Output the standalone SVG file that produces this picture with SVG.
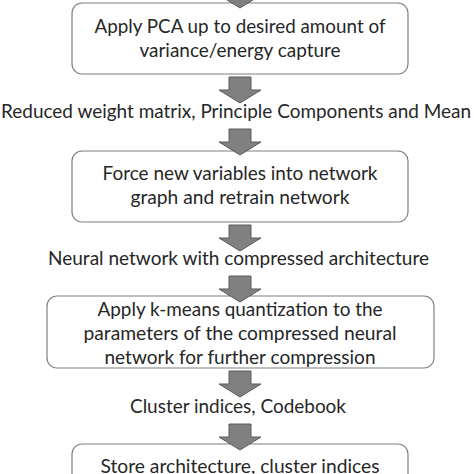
<svg xmlns="http://www.w3.org/2000/svg" width="474" height="474" viewBox="0 0 474 474">
<defs>
<style>
.box{fill:#ffffff;stroke:#7f7f7f;stroke-width:1.2}
.arr{fill:#808080;stroke:#5a5a5a;stroke-width:1}
text{font-family:Lato,"Open Sans","Liberation Sans",sans-serif;font-size:19px;fill:#262626;text-anchor:middle}
</style>
</defs>
<rect width="474" height="474" fill="#ffffff"/>
<g id="node1">
<rect class="box" x="72" y="3" width="336" height="71" rx="10"/>
<text x="240" y="33" textLength="291" lengthAdjust="spacingAndGlyphs">Apply PCA up to desired amount of</text>
<text x="240" y="57" textLength="201" lengthAdjust="spacingAndGlyphs">variance/energy capture</text>
</g>
<g id="label1"><text x="236" y="118" textLength="470" lengthAdjust="spacingAndGlyphs">Reduced weight matrix, Principle Components and Mean</text></g>
<g id="node2">
<rect class="box" x="72" y="151" width="336" height="71" rx="10"/>
<text x="240" y="180" textLength="275" lengthAdjust="spacingAndGlyphs">Force new variables into network</text>
<text x="240" y="204" textLength="219" lengthAdjust="spacingAndGlyphs">graph and retrain network</text>
</g>
<g id="label2"><text x="238.5" y="265" textLength="381" lengthAdjust="spacingAndGlyphs">Neural network with compressed architecture</text></g>
<g id="node3">
<rect class="box" x="47" y="296" width="387" height="72" rx="10"/>
<text x="240" y="316" textLength="285" lengthAdjust="spacingAndGlyphs">Apply k-means quantization to the</text>
<text x="240" y="340" textLength="313" lengthAdjust="spacingAndGlyphs">parameters of the compressed neural</text>
<text x="240" y="364" textLength="271" lengthAdjust="spacingAndGlyphs">network for further compression</text>
</g>
<g id="label3"><text x="238" y="413" textLength="216" lengthAdjust="spacingAndGlyphs">Cluster indices, Codebook</text></g>
<g id="node4">
<rect class="box" x="72" y="444" width="336" height="71" rx="10"/>
<text x="240" y="473" textLength="279" lengthAdjust="spacingAndGlyphs">Store architecture, cluster indices</text>
</g>
<g id="connectors">
<path class="arr" d="M229,-18 H251 V-5 H261 L240,8 L219,-5 H229 Z"/>
<path class="arr" d="M229,77 H251 V90 H261 L240,103 L219,90 H229 Z"/>
<path class="arr" d="M229,129 H251 V142 H261 L240,155 L219,142 H229 Z"/>
<path class="arr" d="M229,225 H251 V238 H261 L240,251 L219,238 H229 Z"/>
<path class="arr" d="M229,276 H251 V289 H261 L240,302 L219,289 H229 Z"/>
<path class="arr" d="M229,371 H251 V384 H261 L240,397 L219,384 H229 Z"/>
<path class="arr" d="M229,424 H251 V437 H261 L240,450 L219,437 H229 Z"/>
</g>
</svg>
